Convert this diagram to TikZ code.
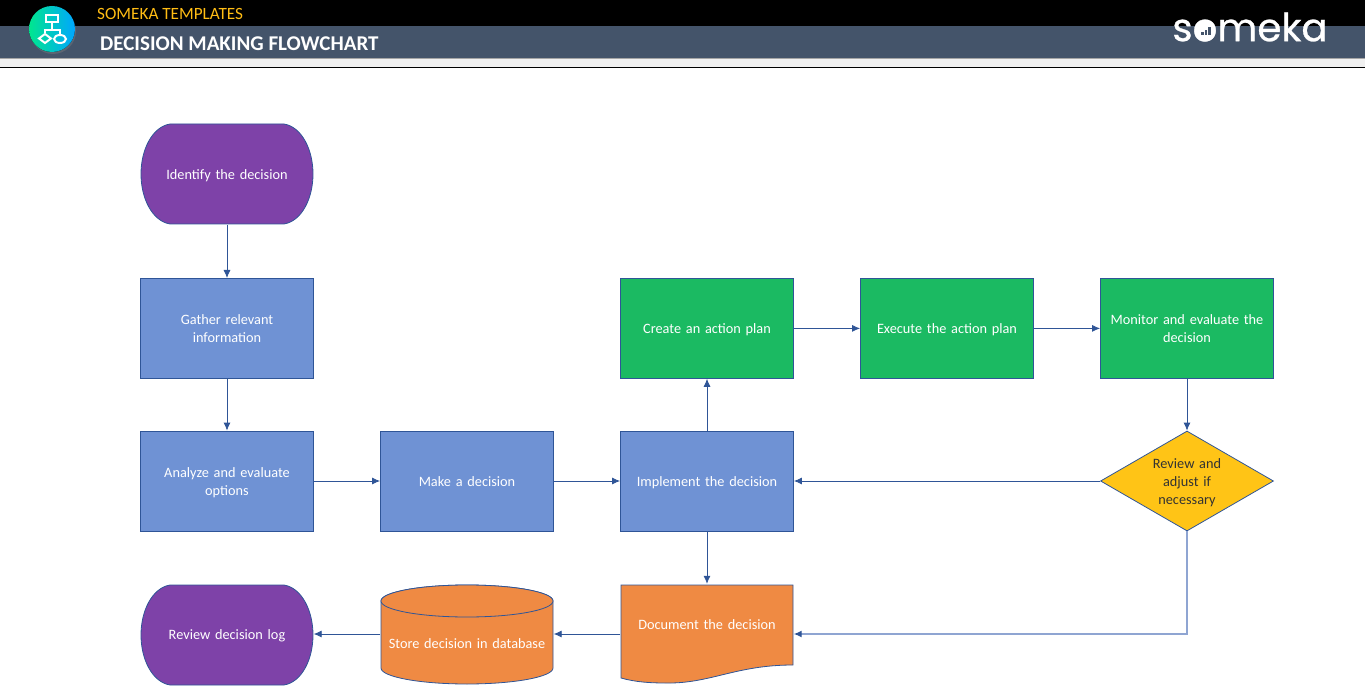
\documentclass[tikz,border=0pt]{standalone}
\usepackage{fontspec}
\setmainfont{Carlito}
\newfontfamily\logofont[FakeBold=0.7]{Poppins}
\usetikzlibrary{arrows.meta,shapes.geometric,shadows}

\definecolor{headslate}{HTML}{44546A}
\definecolor{linkblue}{HTML}{2F5597}
\definecolor{softblue}{HTML}{8FA5D2}
\definecolor{purplebox}{HTML}{7E42A8}
\definecolor{bluebox}{HTML}{6F92D4}
\definecolor{greenbox}{HTML}{1BBA62}
\definecolor{orangebox}{HTML}{EF8A43}
\definecolor{yellowbox}{HTML}{FFC416}
\definecolor{logogreen}{HTML}{00E68F}
\definecolor{logoblue}{HTML}{00A6FF}

\tikzset{
    boxtext/.style={text=white,align=center,font=\fontsize{14.3}{18}\selectfont,text width=160pt,inner sep=0pt,
        execute at begin node={\rule{0pt}{14pt}},execute at end node={\rule[-4pt]{0pt}{4pt}}},
    flowbox/.style={boxtext,rectangle,draw=linkblue,line width=.8pt,minimum width=173pt,minimum height=100pt},
    plainbox/.style={boxtext,rectangle,minimum width=173pt,minimum height=100pt},
    shapeline/.style={draw=linkblue,line width=.8pt},
    link/.style={draw=linkblue,line width=.8pt,-{Latex[length=8pt,width=7pt]}},
    softlink/.style={draw=softblue,line width=1.3pt,-{Latex[length=8pt,width=7pt,color=linkblue]}},
    iconline/.style={draw=white,line width=2pt}
}

\begin{document}
\begin{tikzpicture}[x=1pt,y=-1pt]
    \useasboundingbox (0,0) rectangle (1365,700);

    % header
    \fill[black] (0,0) rectangle (1365,26);
    \fill[headslate] (0,26) rectangle (1365,58);
    \fill[gray!70] (0,58) rectangle (1365,59);
    \fill[black!6] (0,59) rectangle (1365,67);
    \fill[black] (0,67) rectangle (1365,68);
    \node[anchor=west,inner sep=0pt,text=yellowbox!90!orange,font=\fontsize{17.2}{18}\selectfont] (brand) at (97,14) {SOMEKA TEMPLATES};
    \node[anchor=west,inner sep=0pt,text=white,font=\fontsize{21}{22}\selectfont\bfseries] (title) at (100,44) {DECISION MAKING FLOWCHART};

    % logo
    \fill[left color=logogreen,right color=logoblue,drop shadow={shadow xshift=1pt,shadow yshift=-2pt,opacity=.4}] (52,29) circle (23);
    \draw[iconline] (46,15) rectangle (58,22);
    \draw[iconline] (52,22) -- (52,30) (45,33) -- (45,30) -- (60,30) -- (60,35);
    \draw[iconline] (39,38.5) -- (45,34) -- (51,38.5) -- (45,43) -- cycle;
    \draw[iconline] (60,39) ellipse (6 and 4);

    \node[inner sep=0pt,text=white,font=\logofont\fontsize{38.8}{40}\selectfont] (someka) at (1250,27) {someka};
    \fill[white] (1205,31) circle (10.5);
    \foreach \x/\h in {1201/3,1204.5/5,1208/8}
        {\fill[headslate] (\x,35) rectangle (\x+2.5,35-\h);}

    % shapes without a node outline
    \foreach \y in {124,585}
        {\draw[shapeline,fill=purplebox] (170,\y) .. controls (152,\y+3) and (141,\y+26) .. (141,\y+50)
            .. controls (141,\y+74) and (152,\y+97) .. (170,\y+100) -- (284,\y+100)
            .. controls (302,\y+97) and (313,\y+74) .. (313,\y+50)
            .. controls (313,\y+26) and (302,\y+3) .. (284,\y) -- cycle;}
    \draw[shapeline,fill=orangebox] (621,585) -- (793,585) -- (793,665)
        .. controls (735,665) and (710,684) .. (665,683) .. controls (650,683) and (635,682) .. (621,678) -- cycle;
    \draw[shapeline,fill=orangebox] (381,601) -- (381,668) arc[start angle=180,end angle=0,x radius=86,y radius=16]
        -- (553,601) arc[start angle=0,end angle=180,x radius=86,y radius=-16];
    \draw[shapeline,fill=orangebox] (467,601) ellipse (86 and 16);

    % nodes
    \node[plainbox] (identify) at (227,174.6) {Identify the decision};
    \node[flowbox,fill=bluebox] (gather) at (227,328.4) {Gather relevant\\information};
    \node[flowbox,fill=bluebox] (analyze) at (227,481) {Analyze and evaluate\\options};
    \node[flowbox,fill=bluebox] (decide) at (467,481) {Make a decision};
    \node[flowbox,fill=bluebox] (implement) at (707,481) {Implement the decision};
    \node[flowbox,fill=greenbox] (plan) at (707,328.4) {Create an action plan};
    \node[flowbox,fill=greenbox] (execute) at (947,328.4) {Execute the action plan};
    \node[flowbox,fill=greenbox] (monitor) at (1187,328.4) {Monitor and evaluate the\\decision};
    \node[boxtext,shape=diamond,aspect=1.73,shapeline,fill=yellowbox,minimum width=173pt,minimum height=100pt,
        text=black!80,text width=75pt] (review) at (1187,481) {Review and\\adjust if\\necessary};
    \node[plainbox] (document) at (707,634) {Document the decision\rule[-24pt]{0pt}{24pt}};
    \node[plainbox] (store) at (467,634) {\rule{0pt}{32pt}Store decision in database};
    \node[plainbox] (reviewlog) at (227,634) {Review decision log};

    % connectors
    \foreach \a/\b in {identify.south/gather.north,gather.south/analyze.north,analyze.east/decide.west,
        decide.east/implement.west,implement.north/plan.south,plan.east/execute.west,execute.east/monitor.west,
        monitor.south/review.north,review.west/implement.east,implement.south/document.north,
        document.west/store.east,store.west/reviewlog.east}
        {\draw[link] (\a) -- (\b);}
    \draw[softlink] (review.south) |- (document.east);
\end{tikzpicture}
\end{document}
